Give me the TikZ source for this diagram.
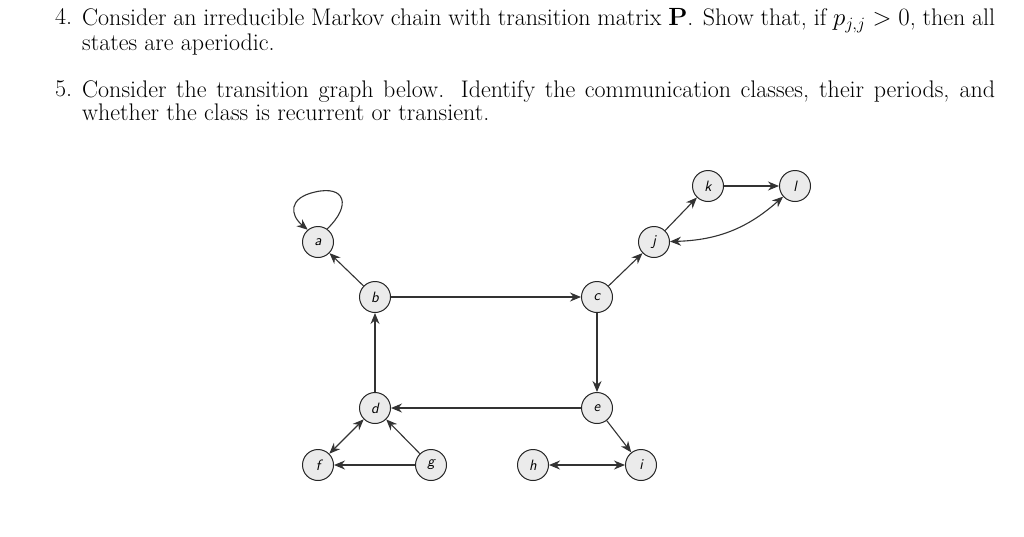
\documentclass[tikz,border=0pt]{standalone}
\usetikzlibrary{arrows.meta}
\begin{document}
\begin{tikzpicture}[x=1pt,y=-1pt,
  st/.style={circle,draw=black!85,fill=black!8,line width=1pt,minimum size=31pt,inner sep=0pt,font=\fontsize{15}{15}\selectfont\sffamily\itshape},
  ed/.style={draw=black!80,line width=1.1pt,-{Stealth[length=11pt,width=9pt]}},
  bi/.style={draw=black!80,line width=1.1pt,{Stealth[length=11pt,width=9pt]}-{Stealth[length=11pt,width=9pt]}},
  para/.style={anchor=north west,text width=913pt,align=justify,inner sep=0pt,font=\fontsize{24}{23}\selectfont},
  num/.style={anchor=north west,inner sep=0pt,font=\fontsize{24}{23}\selectfont}]
\useasboundingbox (0,0) rectangle (1024,536);
\node[num] (n4) at (55,8) {4.};
\node[para] (p4) at (82,8) {Consider an irreducible Markov chain with transition matrix $\mathbf{P}$. Show that, if $p_{j,j}>0$, then all states are aperiodic.};
\node[num] (n5) at (55,80) {5.};
\node[para] (p5) at (82,80) {Consider the transition graph below. Identify the communication classes, their periods, and whether the class is recurrent or transient.};
\node[st] (a) at (318,242) {a};
\node[st] (b) at (375,297) {b};
\node[st] (c) at (597,297) {c};
\node[st] (d) at (375,408) {d};
\node[st] (e) at (597,408) {e};
\node[st] (f) at (318,465) {f};
\node[st] (g) at (431,465) {g};
\node[st] (h) at (533,465) {h};
\node[st] (i) at (641,465) {i};
\node[st] (j) at (654,242) {j};
\node[st] (k) at (708,186) {k};
\node[st] (l) at (795,186) {l};
\draw[ed] (a.55) .. controls (352,205) and (345,185) .. (315,192) .. controls (288,198) and (290,215) .. (a.130);
\draw[ed] (b) -- (a);
\draw[ed] (b) -- (c);
\draw[ed] (c) -- (j);
\draw[ed] (c) -- (e);
\draw[ed] (e) -- (d);
\draw[ed] (d) -- (b);
\draw[bi] (d) -- (f);
\draw[ed] (g) -- (d);
\draw[ed] (g) -- (f);
\draw[ed] (e) -- (i);
\draw[bi] (h) -- (i);
\draw[ed] (j) -- (k);
\draw[ed] (k) -- (l);
\draw[bi] (j) to[bend right=20] (l);
\end{tikzpicture}
\end{document}
